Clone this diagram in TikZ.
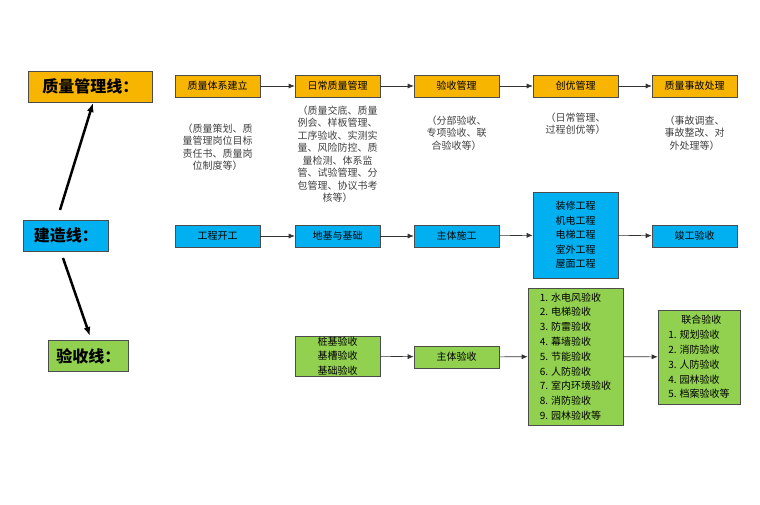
\documentclass[tikz,border=0pt]{standalone}
\usepackage{fontspec}
\setmainfont{Noto Sans CJK SC}
\usetikzlibrary{arrows.meta}
\begin{document}
\begin{tikzpicture}[x=1pt,y=-1pt,
  bx/.style={draw=black!70,line width=0.6pt,minimum width=85pt,minimum height=22pt,inner sep=1pt,font=\fontsize{10}{12}\selectfont,align=center},
  org/.style={bx,fill=orange1},
  blu/.style={bx,fill=blue1},
  grn/.style={bx,fill=green1},
  lbl/.style={draw=black!70,line width=0.8pt,font=\fontsize{16}{18}\selectfont\bfseries,anchor=west,minimum height=31pt,inner sep=3pt},
  desc/.style={font=\fontsize{10}{12.5}\selectfont,align=center,text=black!75,anchor=north},
  ar/.style={-{Latex[length=6pt,width=5pt]},line width=0.6pt,black!80},
  big/.style={-{Latex[length=9pt,width=7pt]},line width=2.5pt}]
\definecolor{orange1}{HTML}{F7B500}
\definecolor{blue1}{HTML}{00B0F0}
\definecolor{green1}{HTML}{92D050}
\useasboundingbox (0,0) rectangle (760,505);
\node[lbl,fill=orange1,minimum width=124pt] (q) at (28,86.5) {质量管理线：};
\node[lbl,fill=blue1,minimum width=85pt] (j) at (23,235.5) {建造线：};
\node[lbl,fill=green1,minimum width=80pt] (y) at (48,356) {验收线：};
\coordinate (js) at (60,210);
\coordinate (jd) at (63,258);
\coordinate (qt) at (93,103);
\coordinate (yt) at (90,336);
\draw[big] (js) -- (qt);
\draw[big] (jd) -- (yt);
% top row
\node[org] (a1) at (217.5,86) {质量体系建立};
\node[org] (a2) at (337.5,86) {日常质量管理};
\node[org] (a3) at (456.5,86) {验收管理};
\node[org] (a4) at (575.5,86) {创优管理};
\node[org] (a5) at (694.5,86) {质量事故处理};
\foreach \i/\k in {a1/a2,a2/a3,a3/a4,a4/a5} \draw[ar] (\i) -- (\k);
\node[desc] (d1) at (217.5,120) {（质量策划、质\\量管理岗位目标\\责任书、质量岗\\位制度等）};
\node[desc] (d2) at (337.5,102) {（质量交底、质量\\例会、样板管理、\\工序验收、实测实\\量、风险防控、质\\量检测、体系监\\管、试验管理、分\\包管理、协议书考\\核等）};
\node[desc] (d3) at (456.5,112) {（分部验收、\\专项验收、联\\合验收等）};
\node[desc] (d4) at (575.5,109) {（日常管理、\\过程创优等）};
\node[desc] (d5) at (694.5,112) {（事故调查、\\事故整改、对\\外处理等）};
% blue row
\node[blu] (b1) at (217.5,236) {工程开工};
\node[blu] (b2) at (337.5,236) {地基与基础};
\node[blu] (b3) at (456.5,236) {主体施工};
\node[blu,minimum height=86pt,font=\fontsize{10}{14.5}\selectfont] (b4) at (575.5,235) {装修工程\\机电工程\\电梯工程\\室外工程\\屋面工程};
\node[blu] (b5) at (694.5,236) {竣工验收};
\foreach \i/\k in {b1/b2,b2/b3,b3/b4,b4/b5} \draw[ar] (\i) -- (\k);
% green row
\node[grn,minimum height=35pt,font=\fontsize{10}{14.5}\selectfont] (c1) at (337.5,356) {桩基验收\\基槽验收\\基础验收};
\node[grn] (c2) at (456.5,357) {主体验收};
\node[grn,minimum width=95pt,minimum height=137pt,align=left,font=\fontsize{10}{14.8}\selectfont] (c3) at (575.5,356.5) {1. 水电风验收\\2. 电梯验收\\3. 防雷验收\\4. 幕墙验收\\5. 节能验收\\6. 人防验收\\7. 室内环境验收\\8. 消防验收\\9. 园林验收等};
\node[grn,minimum width=82pt,minimum height=94pt,align=left,font=\fontsize{10}{14.8}\selectfont] (c4) at (699,357) {\hspace*{1.3em}联合验收\\1. 规划验收\\2. 消防验收\\3. 人防验收\\4. 园林验收\\5. 档案验收等};
\foreach \i/\k in {c1/c2,c2/c3,c3/c4} \draw[ar] (\i) -- (\k);
\end{tikzpicture}
\end{document}
